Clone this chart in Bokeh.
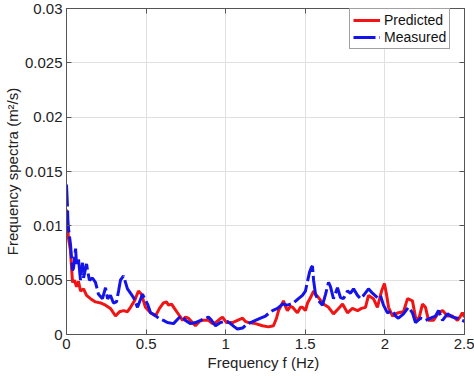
from bokeh.plotting import figure
from bokeh.models import Range1d, LinearAxis, FixedTicker, Legend, LegendItem
from bokeh.embed import file_html
from bokeh.resources import INLINE

# ---- data ----
pred_f = [0.000, 0.006, 0.013, 0.025, 0.038, 0.050, 0.063, 0.075, 0.088, 0.107, 0.126, 0.151,
          0.182, 0.214, 0.245, 0.276, 0.308, 0.333, 0.358, 0.383, 0.402, 0.427, 0.452, 0.471,
          0.496, 0.528, 0.559, 0.584, 0.609, 0.628, 0.641, 0.660, 0.678, 0.697, 0.716, 0.729,
          0.747, 0.766, 0.791, 0.810, 0.835, 0.854, 0.892, 0.917, 0.936, 0.961, 0.980, 1.005,
          1.043, 1.074, 1.106, 1.124, 1.143, 1.187, 1.231, 1.269, 1.300, 1.319, 1.332, 1.350,
          1.363, 1.375, 1.388, 1.407, 1.420, 1.438, 1.451, 1.470, 1.482, 1.501, 1.514, 1.533,
          1.552, 1.570, 1.583, 1.614, 1.646, 1.677, 1.709, 1.734, 1.765, 1.796, 1.828, 1.853,
          1.878, 1.897, 1.928, 1.953, 1.979, 1.997, 2.010, 2.023, 2.048, 2.067, 2.085, 2.117,
          2.142, 2.173, 2.192, 2.211, 2.236, 2.255, 2.274, 2.305, 2.337, 2.362, 2.393, 2.425,
          2.456, 2.475, 2.487, 2.500]
pred_v = [0.0115, 0.0100, 0.0088, 0.0077, 0.0048, 0.0050, 0.0044, 0.0049, 0.0040, 0.0042, 0.0036, 0.0033,
          0.0030, 0.0029, 0.0027, 0.0024, 0.0017, 0.0021, 0.0022, 0.0021, 0.0025, 0.0031, 0.0040, 0.0037,
          0.0025, 0.0020, 0.0017, 0.0024, 0.0029, 0.0030, 0.0027, 0.0028, 0.0024, 0.0020, 0.0016, 0.0013,
          0.0016, 0.0015, 0.0011, 0.0008, 0.0012, 0.0013, 0.0013, 0.0010, 0.0011, 0.0014, 0.0016, 0.0011,
          0.0011, 0.0013, 0.0015, 0.0012, 0.0011, 0.0010, 0.0008, 0.0007, 0.0008, 0.0015, 0.0022, 0.0027,
          0.0031, 0.0026, 0.0022, 0.0026, 0.0025, 0.0022, 0.0020, 0.0025, 0.0025, 0.0022, 0.0029, 0.0034,
          0.0040, 0.0036, 0.0034, 0.0028, 0.0025, 0.0019, 0.0024, 0.0028, 0.0020, 0.0024, 0.0022, 0.0024,
          0.0025, 0.0036, 0.0033, 0.0025, 0.0040, 0.0047, 0.0037, 0.0025, 0.0017, 0.0019, 0.0020, 0.0021,
          0.0033, 0.0031, 0.0016, 0.0013, 0.0028, 0.0025, 0.0013, 0.0013, 0.0020, 0.0022, 0.0017, 0.0017,
          0.0013, 0.0017, 0.0020, 0.0016]

meas_f = [0.000, 0.006, 0.009, 0.013, 0.025, 0.038, 0.044, 0.057, 0.063, 0.075, 0.088, 0.101,
          0.107, 0.126, 0.132, 0.144, 0.163, 0.182, 0.201, 0.226, 0.245, 0.258, 0.276, 0.295,
          0.314, 0.327, 0.339, 0.358, 0.383, 0.402, 0.421, 0.446, 0.477, 0.509, 0.528, 0.553,
          0.578, 0.609, 0.634, 0.672, 0.704, 0.722, 0.747, 0.779, 0.810, 0.842, 0.873, 0.892,
          0.911, 0.936, 0.967, 0.992, 1.011, 1.030, 1.055, 1.074, 1.106, 1.131, 1.156, 1.187,
          1.219, 1.250, 1.275, 1.294, 1.325, 1.357, 1.388, 1.407, 1.426, 1.457, 1.482, 1.501,
          1.514, 1.526, 1.539, 1.545, 1.552, 1.564, 1.583, 1.608, 1.627, 1.646, 1.658, 1.677,
          1.702, 1.721, 1.740, 1.765, 1.784, 1.803, 1.828, 1.847, 1.866, 1.897, 1.922, 1.953,
          1.972, 1.991, 2.016, 2.048, 2.067, 2.085, 2.117, 2.148, 2.173, 2.192, 2.224, 2.255,
          2.286, 2.318, 2.337, 2.362, 2.393, 2.425, 2.456, 2.487, 2.500]
meas_v = [0.0138, 0.0118, 0.0104, 0.0097, 0.0083, 0.0059, 0.0061, 0.0079, 0.0065, 0.0070, 0.0050, 0.0066,
          0.0052, 0.0065, 0.0059, 0.0050, 0.0052, 0.0048, 0.0037, 0.0033, 0.0043, 0.0033, 0.0036, 0.0029,
          0.0030, 0.0040, 0.0050, 0.0054, 0.0042, 0.0038, 0.0034, 0.0025, 0.0037, 0.0028, 0.0020, 0.0018,
          0.0015, 0.0013, 0.0011, 0.0010, 0.0015, 0.0017, 0.0013, 0.0010, 0.0011, 0.0013, 0.0015, 0.0016,
          0.0013, 0.0008, 0.0011, 0.0012, 0.0012, 0.0010, 0.0007, 0.0005, 0.0006, 0.0009, 0.0011, 0.0013,
          0.0015, 0.0017, 0.0020, 0.0022, 0.0024, 0.0028, 0.0027, 0.0028, 0.0029, 0.0033, 0.0036, 0.0040,
          0.0049, 0.0057, 0.0062, 0.0063, 0.0050, 0.0037, 0.0031, 0.0027, 0.0037, 0.0048, 0.0044, 0.0033,
          0.0043, 0.0034, 0.0033, 0.0040, 0.0038, 0.0042, 0.0036, 0.0033, 0.0036, 0.0042, 0.0038, 0.0034,
          0.0036, 0.0027, 0.0020, 0.0022, 0.0017, 0.0015, 0.0019, 0.0025, 0.0020, 0.0011, 0.0015, 0.0013,
          0.0015, 0.0017, 0.0022, 0.0013, 0.0019, 0.0016, 0.0015, 0.0013, 0.0012]

x_ticks = [0, 0.5, 1, 1.5, 2, 2.5]
x_tick_labels = ["0", "0.5", "1", "1.5", "2", "2.5"]
y_ticks = [0, 0.005, 0.01, 0.015, 0.02, 0.025, 0.03]
y_tick_labels = ["0", "0.005", "0.01", "0.015", "0.02", "0.025", "0.03"]

series_names = ["Predicted", "Measured"]
x_label = "Frequency  f (Hz)"
y_label = "Frequency spectra (m\u00b2/s)"

FONT = "Liberation Sans"
RED = "#f01414"
BLUE = "#1414e8"
AXC = "#555555"

p = figure(width=474, height=376, output_backend="svg", toolbar_location=None,
           x_range=Range1d(0, 2.5), y_range=Range1d(0, 0.03),
           min_border_left=66, min_border_right=10, min_border_top=8, min_border_bottom=42)
p.outline_line_color = AXC
p.outline_line_width = 1
p.background_fill_color = "white"
p.border_fill_color = "white"

for ax in (p.xaxis[0], p.yaxis[0]):
    ax.major_tick_in = 5
    ax.major_tick_out = 0
    ax.minor_tick_in = 0
    ax.minor_tick_out = 0
    ax.axis_line_color = AXC
    ax.major_tick_line_color = AXC
    ax.major_label_text_font = FONT
    ax.major_label_text_font_size = "15px"
    ax.major_label_text_color = "#222222"
    ax.major_label_standoff = 4
    ax.axis_label_text_font = FONT
    ax.axis_label_text_font_size = "15px"
    ax.axis_label_text_font_style = "normal"
    ax.axis_label_text_color = "#222222"

p.xaxis[0].ticker = FixedTicker(ticks=x_ticks)
p.xaxis[0].major_label_overrides = {t: l for t, l in zip(x_ticks, x_tick_labels)}
p.xaxis[0].axis_label = x_label
p.xaxis[0].axis_label_standoff = 2
p.yaxis[0].ticker = FixedTicker(ticks=y_ticks)
p.yaxis[0].major_label_overrides = {t: l for t, l in zip(y_ticks, y_tick_labels)}
p.yaxis[0].axis_label = y_label
p.yaxis[0].axis_label_standoff = 1

# mirrored axes (MATLAB box ticks)
ax_r = LinearAxis(ticker=FixedTicker(ticks=y_ticks))
ax_t = LinearAxis(ticker=FixedTicker(ticks=x_ticks))
for ax in (ax_r, ax_t):
    ax.major_tick_in = 5
    ax.major_tick_out = 0
    ax.minor_tick_in = 0
    ax.minor_tick_out = 0
    ax.axis_line_color = AXC
    ax.major_tick_line_color = AXC
    ax.major_label_text_font_size = "0px"
    ax.major_label_text_color = None
    ax.major_label_standoff = 0
p.add_layout(ax_r, "right")
p.add_layout(ax_t, "above")

p.grid.grid_line_color = "#e0e0e0"
p.grid.grid_line_width = 1
p.xgrid.ticker = FixedTicker(ticks=x_ticks)
p.ygrid.ticker = FixedTicker(ticks=y_ticks)

r_pred = p.line(pred_f, pred_v, line_color=RED, line_width=3)
r_meas = p.line(meas_f, meas_v, line_color=BLUE, line_width=3, line_dash="22 4")

legend = Legend(items=[LegendItem(label=series_names[0], renderers=[r_pred]),
                       LegendItem(label=series_names[1], renderers=[r_meas])],
                location="top_right")
legend.label_text_font = FONT
legend.label_text_font_size = "14px"
legend.label_text_color = "#111111"
legend.border_line_color = "#444444"
legend.border_line_width = 1
legend.background_fill_alpha = 1
legend.glyph_width = 27
legend.glyph_height = 14
legend.label_height = 14
legend.spacing = 1
legend.padding = 3
legend.margin = 0
legend.label_standoff = 4
legend.location = (283, 285)
p.add_layout(legend)

open("out.html", "w").write(file_html(p, INLINE))
